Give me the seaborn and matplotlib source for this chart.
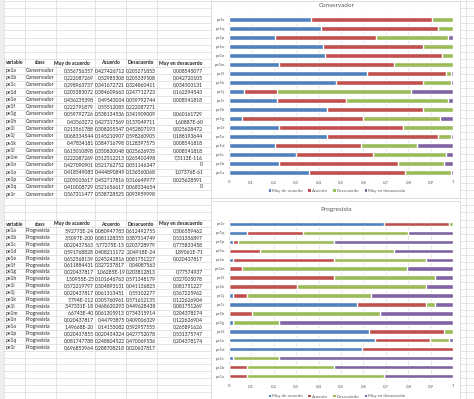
import numpy as np
import pandas as pd
import seaborn as sns
import matplotlib.pyplot as plt
from matplotlib.patches import Rectangle, Patch

# ---------------------------------------------------------------- data
variables = ["pe1a", "pe1b", "pe1c", "pe1d", "pe1e", "pe1f", "pe1g", "pe1h", "pe1i",
             "pe1j", "pe1k", "pe1l", "pe1m", "pe1n", "pe1o", "pe1p", "pe1q", "pe1r"]
answers = ["Muy de acuerdo", "Acuerdo", "Desacuerdo", "Muy en desacuerdo"]

cons_muy_acuerdo = [0.356756357, 0.222087269, 0.298963737, 0.205383072, 0.436235398, 0.222791879,
                    0.059792726, 0.43563272, 0.213561788, 0.068334544, 0.47834181, 0.615010898,
                    0.222087269, 0.427090901, 0.418549083, 0.205003617, 0.410008729, 0.367311477]
cons_acuerdo = [0.427426712, 0.52985308, 0.341672721, 0.384609663, 0.49543004, 0.55512085,
                0.538134536, 0.427317569, 0.308205547, 0.145210907, 0.384716798, 0.350820048,
                0.512512213, 0.521762752, 0.444890849, 0.452717816, 0.521656617, 0.538728525]
cons_desacuerdo = [0.205271853, 0.205339508, 0.324860411, 0.247712723, 0.059792744, 0.222087271,
                   0.341909009, 0.137049711, 0.452807193, 0.598260905, 0.128397575, 0.025626935,
                   0.265400498, 0.051146347, 0.136560068, 0.316649977, 0.068334654, 0.093959998]
cons_muy_desacuerdo = [0.008545077, 0.042720105, 0.034503131, 0.162294543, 0.008541818, np.nan,
                       0.060161729, 1.60887e-60, 0.025628472, 0.188193644, 0.008541818, 0.008541818,
                       7.3113e-116, 0, 1.07376e-61, 0.025628591, 0, np.nan]

prog_muy_acuerdo = [5.92773e-24, 3.50966e-200, 0.020437563, 0.591768828, 0.652568139, 0.611884431,
                    0.020437817, 1.50955e-25, 0.572219797, 0.020437817, 7.794e-112, 3.47331e-18,
                    6.6743e-40, 0.020437817, 1.49668e-20, 0.020437855, 0.081747788, 0.696853964]
prog_acuerdo = [0.080947783, 0.081128355, 5.77275e-15, 0.408211172, 0.245242816, 0.327237817,
                1.06285e-19, 0.101646763, 0.304893131, 0.061313451, 0.305760961, 0.468620293,
                0.061305913, 0.44793875, 0.14155082, 0.020434324, 0.248804522, 0.288708218]
prog_desacuerdo = [0.612492755, 0.387514749, 0.203728979, 2.04918e-24, 0.081751227, 0.04087563,
                   0.203812813, 0.571348179, 0.041136825, 0.55102277, 0.571612135, 0.449628438,
                   0.734315914, 0.409006329, 0.592957555, 0.427752078, 0.470069536, 0.020637817]
prog_muy_desacuerdo = [0.306559462, 0.531356897, 0.775833458, 1.89061e-71, 0.020437817, np.nan,
                       0.77574937, 0.327005078, 0.081751227, 0.367225962, 0.122626904, 0.081751269,
                       0.204378174, 0.122626904, 0.265891626, 0.531375747, 0.204378174, np.nan]

colors = ["#4F81BD", "#C0504D", "#9BBB59", "#8064A2"]

cons = pd.DataFrame(dict(zip(answers, [cons_muy_acuerdo, cons_acuerdo, cons_desacuerdo, cons_muy_desacuerdo])),
                    index=variables)
prog = pd.DataFrame(dict(zip(answers, [prog_muy_acuerdo, prog_acuerdo, prog_desacuerdo, prog_muy_desacuerdo])),
                    index=variables)

sns.set_style("white")
plt.rcParams["font.family"] = ["Lato", "DejaVu Sans"]

W, H = 474, 399
fig = plt.figure(figsize=(W / 100, H / 100), dpi=100)

# ---------------------------------------------------------------- sheet
bg = fig.add_axes([0, 0, 1, 1])
bg.set_xlim(0, W)
bg.set_ylim(H, 0)
bg.axis("off")


def row_y(i):
    # Excel rows: upper block a bit taller than the lower one in the screenshot
    if i <= 21:
        return 63 + 7.28 * i
    return 224 + 6.85 * (i - 22)


def fmt(v):
    if pd.isna(v):
        return ""
    if v == 0:
        return "0"
    if abs(v) < 1e-4:
        e = int(np.floor(np.log10(abs(v))))
        es = f"E{e:03d}"
        n = 11 - len(es) - 2
        m = f"{v / 10.0 ** e:.{n}f}".rstrip("0").rstrip(".")
        return (m + es).replace(".", ",")
    return f"{v:.9f}".rstrip("0").rstrip(".").replace(".", ",")


grid_c = "#dadada"
for i in range(-10, 48):
    yb = (row_y(i) + row_y(i + 1)) / 2
    bg.plot([0, W], [yb, yb], color=grid_c, lw=0.5, zorder=1)
for xc in [4.5, 25, 56, 95, 126, 157, 211, 466]:
    bg.plot([xc, xc], [0, H], color=grid_c, lw=0.5, zorder=1)
bg.add_patch(Rectangle((0, 0), 4.5, H, facecolor="#eeeeee", edgecolor="none", zorder=2))

num_right = [94, 125, 156, 203]
tfs = 3.6
for start, cls, df in [(0, "Conservador", cons), (22, "Progresista", prog)]:
    y0 = row_y(start)
    bg.text(6, y0, "variable", ha="left", va="center", fontsize=tfs, fontweight="bold", zorder=3)
    bg.text(40, y0, "class", ha="center", va="center", fontsize=tfs, fontweight="bold", zorder=3)
    for xc, name in zip([72, 110, 141, 181], answers):
        bg.text(xc, y0, name, ha="center", va="center", fontsize=tfs, fontweight="bold", zorder=3)
    for k, var in enumerate(variables):
        y = row_y(start + 1 + k)
        bg.text(6, y, var, ha="left", va="center", fontsize=tfs, zorder=3)
        bg.text(26, y, cls, ha="left", va="center", fontsize=tfs, zorder=3)
        for xr, name in zip(num_right, answers):
            bg.text(xr, y, fmt(df.loc[var, name]), ha="right", va="center", fontsize=tfs, zorder=3)

# chart panels
bg.add_patch(Rectangle((211.5, 0.5), 248.5, 197, facecolor="white", edgecolor="#d9d9d9", lw=0.6, zorder=4))
bg.add_patch(Rectangle((211.5, 200.5), 248.5, 198, facecolor="white", edgecolor="#d9d9d9", lw=0.6, zorder=4))
bg.text(337, 5.5, "Conservador", ha="center", va="center", fontsize=4.6, color="#595959", zorder=5)
bg.text(336, 209.5, "Progresista", ha="center", va="center", fontsize=4.6, color="#595959", zorder=5)

# ---------------------------------------------------------------- charts
x0, x1 = 228.7, 453.3
panels = [(cons, 14.8, 176.8, 191), (prog, 219.5, 380.5, 396.5)]
ticks = np.round(np.arange(0, 1.01, 0.1), 1)
handles = [Patch(facecolor=c, edgecolor="none") for c in colors]

for df, top, bottom, leg_y in panels:
    ax = fig.add_axes([x0 / W, 1 - bottom / H, (x1 - x0) / W, (bottom - top) / H])
    ax.patch.set_alpha(0)
    share = df.fillna(0)
    share = share.div(share.sum(axis=1), axis=0)
    cum = share.cumsum(axis=1)
    # 100 % stacked bars: longest cumulative first, shorter ones painted on top
    for name, c in list(zip(answers, colors))[::-1]:
        sns.barplot(x=cum[name].values, y=variables, order=variables[::-1], orient="h",
                    color=c, saturation=1, width=0.5, errorbar=None, ax=ax, zorder=2)
    ax.set_xlim(0, 1)
    ax.set_xticks(ticks)
    ax.set_xticklabels([f"{t:g}".replace(".", ",") for t in ticks])
    ax.set_xlabel("")
    ax.set_ylabel("")
    ax.grid(axis="x", color="#d9d9d9", lw=0.5)
    ax.set_axisbelow(True)
    for s in ax.spines.values():
        s.set_visible(False)
    ax.tick_params(length=0, labelsize=3.1, colors="#595959", pad=2.6)
    ax.legend(handles, answers, loc="center", bbox_to_anchor=(337 / W, 1 - leg_y / H),
              bbox_transform=fig.transFigure, ncol=4, frameon=False, fontsize=3.1,
              handlelength=0.6, handleheight=0.6, handletextpad=0.3, columnspacing=1.2,
              labelcolor="#595959")

fig.savefig("out.png", dpi=100)
